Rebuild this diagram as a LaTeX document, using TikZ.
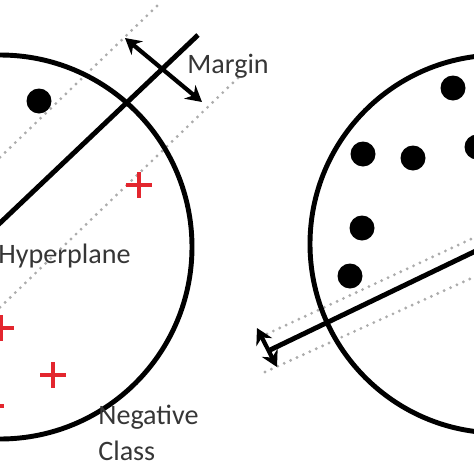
\documentclass[tikz,border=0pt]{standalone}
\usepackage{fontspec}
\setmainfont{Carlito}
\usetikzlibrary{arrows.meta}
\definecolor{plusred}{HTML}{E3262E}
\definecolor{labelgray}{HTML}{363636}

\begin{document}
\begin{tikzpicture}[x=0.02cm, y=-0.02cm,
  classring/.style={black, line width=2.8pt},
  hyperline/.style={black, line width=2.8pt},
  marginline/.style={gray!65, line width=1.8pt, line cap=round, dash pattern=on 0pt off 4pt},
  marginarrow/.style={black, line width=2.4pt, {Stealth[length=9pt,width=10pt]}-{Stealth[length=9pt,width=10pt]}},
  posdot/.style={black},
  negplus/.style={plusred, line width=2.8pt},
  lbl/.style={text=labelgray, font=\fontsize{16}{20}\selectfont, inner sep=0pt}]
  \useasboundingbox (0,0) rectangle (474,474);
  \clip (0,0) rectangle (474,474);

  % left panel
  \coordinate (lup-a) at (-10,167);
  \coordinate (lup-b) at (158,5);
  \coordinate (llow-a) at (-10,317);
  \coordinate (llow-b) at (240,76);
  \coordinate (lhyp-a) at (-10,232.5);
  \coordinate (lhyp-b) at (198,35);
  \coordinate (lmar-a) at (125,38);
  \coordinate (lmar-b) at (202,102);
  \draw[marginline] (lup-a) -- (lup-b);
  \draw[marginline] (llow-a) -- (llow-b);
  \draw[classring] (0,247) circle[radius=192];
  \draw[hyperline] (lhyp-a) -- (lhyp-b);
  \draw[marginarrow] (lmar-a) -- (lmar-b);
  \fill[posdot] (39,101) circle[radius=12.5];
  \foreach \px/\py in {139/185, 53/375, 1/328, -9/406}
    \draw[negplus] (\px-13,\py) -- (\px+13,\py) (\px,\py-13) -- (\px,\py+13);

  % right panel
  \coordinate (rup-a) at (267,334);
  \coordinate (rup-b) at (484,233);
  \coordinate (rlow-a) at (265,372);
  \coordinate (rlow-b) at (484,272.5);
  \coordinate (rhyp-a) at (270,350);
  \coordinate (rhyp-b) at (484,247);
  \coordinate (rmar-a) at (257,328);
  \coordinate (rmar-b) at (277,367);
  \draw[marginline] (rup-a) -- (rup-b);
  \draw[marginline] (rlow-a) -- (rlow-b);
  \draw[classring] (499,244) circle[radius=189];
  \draw[hyperline] (rhyp-a) -- (rhyp-b);
  \draw[marginarrow] (rmar-a) -- (rmar-b);
  \foreach \px/\py in {453/88, 363/154, 413/158, 477/147, 362/228, 350/276}
    \fill[posdot] (\px,\py) circle[radius=12.5];

  % labels
  \node[lbl, anchor=base west] (margin) at (187,73) {Margin};
  \node[lbl, anchor=base east] (hyperplane) at (131,263) {Hyperplane};
  \node[lbl, anchor=base west, align=left] (negclass) at (98,460) {Negative\\Class};
\end{tikzpicture}
\end{document}
